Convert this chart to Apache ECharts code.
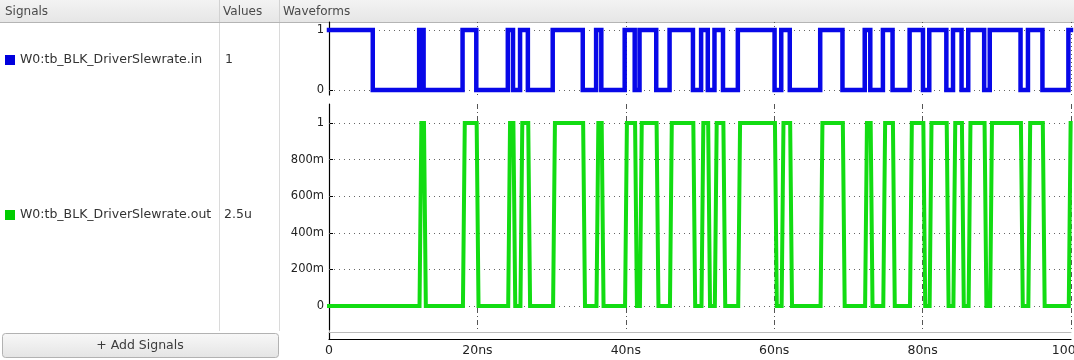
<!DOCTYPE html>
<html><head><meta charset="utf-8">
<script src="https://cdn.jsdelivr.net/npm/echarts@6/dist/echarts.min.js"></script>
<style>html,body{margin:0;padding:0;background:#fff;overflow:hidden}#c{width:1100px;height:360px}</style>
</head><body><div id="c"></div>
<script>
// ---- data ----
const headers = ['Signals', 'Values', 'Waveforms'];
const signalNames = ['W0:tb_BLK_DriverSlewrate.in', 'W0:tb_BLK_DriverSlewrate.out'];
const signalValues = ['1', '2.5u'];
const signalColors = ['#0000dd', '#00cc00'];
const timeTicks = [0, 20, 40, 60, 80, 100];           // ns
const inTicks = [0, 1];
const outTicks = [0, 0.2, 0.4, 0.6, 0.8, 1];
const buttonLabel = '+ Add Signals';

// input: [time ns, level from that time on]
const inWave = [[0,1],[5.9,0],[12.15,1],[12.75,0],[18.0,1],[19.85,0],[24.1,1],[24.8,0],[25.75,1],[26.8,0],
  [30.15,1],[34.2,0],[36.0,1],[36.7,0],[39.85,1],[41.2,0],[41.85,1],[44.1,0],[45.9,1],[49.05,0],
  [50.15,1],[51.05,0],[51.95,1],[53.1,0],[55.1,1],[60.05,0],[60.95,1],[62.1,0],[66.2,1],[69.2,0],
  [72.2,1],[72.95,0],[74.65,1],[75.95,0],[78.25,1],[80.05,0],[80.9,1],[83.2,0],[84.1,1],[85.25,0],
  [86.15,1],[88.3,0],[89.05,1],[93.2,0],[94.2,1],[96.15,0],[99.65,1],[100,1]];

// output: [time ns, volts]
const outWave = [[0,0],
  [12.2,0],[12.45,1],[12.8,1],[13.05,0],
  [18.05,0],[18.3,1],[19.9,1],[20.15,0],
  [24.15,0],[24.4,1],[24.85,1],[25.1,0],
  [25.8,0],[26.05,1],[26.85,1],[27.1,0],
  [30.2,0],[30.45,1],[34.25,1],[34.5,0],
  [36.05,0],[36.3,1],[36.75,1],[37.0,0],
  [39.9,0],[40.15,1],[41.25,1],[41.5,0],
  [41.9,0],[42.15,1],[44.15,1],[44.4,0],
  [45.95,0],[46.2,1],[49.1,1],[49.35,0],
  [50.2,0],[50.45,1],[51.1,1],[51.35,0],
  [52.0,0],[52.25,1],[53.15,1],[53.4,0],
  [55.15,0],[55.4,1],[60.1,1],[60.35,0],
  [61.0,0],[61.25,1],[62.15,1],[62.4,0],
  [66.25,0],[66.5,1],[69.25,1],[69.5,0],
  [72.25,0],[72.5,1],[73.0,1],[73.25,0],
  [74.7,0],[74.95,1],[76.0,1],[76.25,0],
  [78.3,0],[78.55,1],[80.1,1],[80.35,0],
  [80.95,0],[81.2,1],[83.25,1],[83.5,0],
  [84.15,0],[84.4,1],[85.3,1],[85.55,0],
  [86.2,0],[86.45,1],[88.35,1],[88.6,0],
  [89.1,0],[89.35,1],[93.25,1],[93.5,0],
  [94.25,0],[94.5,1],[96.2,1],[96.45,0],
  [99.7,0],[99.95,1],[100,1]];

// ---- chart ----
const FONT = '"DejaVu Sans", "Liberation Sans", sans-serif';
const chart = echarts.init(document.getElementById('c'), null, {renderer: 'canvas'});
const RIGHT = 29;

function plotX(idx, dash) {
  return {gridIndex: idx, type: 'value', min: timeTicks[0], max: timeTicks[timeTicks.length - 1],
    interval: timeTicks[1] - timeTicks[0],
    axisLine: {show: false}, axisTick: {show: false}, axisLabel: {show: false},
    splitLine: {show: true, lineStyle: {color: '#555', width: 1, type: dash}}};
}
function plotY(idx, min, max, ticks, fmt) {
  return {gridIndex: idx, type: 'value', min: min, max: max,
    axisLine: {show: true, onZero: false, lineStyle: {color: '#000', width: 1.2}},
    axisTick: {show: true, inside: true, length: 4, customValues: ticks, lineStyle: {color: '#000'}},
    axisLabel: {show: true, customValues: ticks, margin: 5, color: '#222', fontFamily: FONT, fontSize: 11.5, formatter: fmt},
    splitLine: {show: false}};
}
const gridMark = (ticks) => ({
  silent: true, symbol: 'none', animation: false, z: 1, label: {show: false},
  lineStyle: {color: '#666', width: 1, type: [1, 4]},
  data: ticks.map(v => ({yAxis: v}))
});

const fmtOut = v => v === 0 ? '0' : (v === 1 ? '1' : Math.round(v * 1000) + 'm');

const option = {
  animation: false,
  backgroundColor: '#ffffff',
  grid: [
    {left: 329, top: 22, right: RIGHT, height: 73},
    {left: 329, top: 104, right: RIGHT, height: 226},
    {left: 329, top: 332, right: RIGHT, height: 7}
  ],
  xAxis: [
    plotX(0, [1, 3]),
    plotX(1, [5, 3, 1, 3]),
    {gridIndex: 2, type: 'value', min: 0, max: 100, interval: 20, position: 'bottom',
      axisLine: {show: true, onZero: false, lineStyle: {color: '#000', width: 1.2}},
      axisTick: {show: false}, splitLine: {show: false},
      axisLabel: {show: true, margin: 5, color: '#222', fontFamily: FONT, fontSize: 12.5,
        showMinLabel: true, showMaxLabel: true, alignMinLabel: 'center', alignMaxLabel: 'center',
        hideOverlap: false, formatter: v => v === 0 ? '0' : v + 'ns'}},
    {gridIndex: 2, type: 'value', min: 0, max: 100, position: 'top',
      axisLine: {show: true, onZero: false, lineStyle: {color: '#bbbbbb', width: 1}},
      axisTick: {show: false}, axisLabel: {show: false}, splitLine: {show: false}}
  ],
  yAxis: [
    plotY(0, -0.0833, 1.1333, inTicks, v => String(v)),
    plotY(1, -0.131, 1.104, outTicks, fmtOut),
    {gridIndex: 2, type: 'value', min: 0, max: 1,
      axisLine: {show: true, onZero: false, lineStyle: {color: '#000', width: 1.2}},
      axisTick: {show: false}, axisLabel: {show: false}, splitLine: {show: false}}
  ],
  series: [
    {type: 'line', name: signalNames[0], xAxisIndex: 0, yAxisIndex: 0, data: inWave, step: 'end',
      symbol: 'none', z: 3, lineStyle: {color: '#0808e8', width: 4.5, join: 'miter', cap: 'square'},
      markLine: gridMark(inTicks)},
    {type: 'line', name: signalNames[1], xAxisIndex: 1, yAxisIndex: 1, data: outWave,
      symbol: 'none', z: 3, lineStyle: {color: '#12dc12', width: 4, join: 'miter', cap: 'square'},
      markLine: gridMark(outTicks)}
  ],
  graphic: [
    {type: 'rect', z: 0, shape: {x: 0, y: 0, width: 1100, height: 22},
      style: {fill: new echarts.graphic.LinearGradient(0, 0, 0, 1, [{offset: 0, color: '#f3f3f3'}, {offset: 1, color: '#e6e6e6'}])}},
    {type: 'line', shape: {x1: 0, y1: 22.5, x2: 1100, y2: 22.5}, style: {stroke: '#b4b4b4', lineWidth: 1}},
    {type: 'line', shape: {x1: 219.5, y1: 0, x2: 219.5, y2: 22}, style: {stroke: '#d2d2d2', lineWidth: 1}},
    {type: 'line', shape: {x1: 279.5, y1: 0, x2: 279.5, y2: 22}, style: {stroke: '#d2d2d2', lineWidth: 1}},
    {type: 'line', shape: {x1: 219.5, y1: 23, x2: 219.5, y2: 331}, style: {stroke: '#dadada', lineWidth: 1}},
    {type: 'line', shape: {x1: 279.5, y1: 23, x2: 279.5, y2: 331}, style: {stroke: '#dadada', lineWidth: 1}},
    {type: 'text', style: {text: headers[0], x: 5, y: 12, fill: '#4a4a4a', font: '12px ' + FONT, verticalAlign: 'middle'}},
    {type: 'text', style: {text: headers[1], x: 223, y: 12, fill: '#4a4a4a', font: '12px ' + FONT, verticalAlign: 'middle'}},
    {type: 'text', style: {text: headers[2], x: 283, y: 12, fill: '#4a4a4a', font: '12px ' + FONT, verticalAlign: 'middle'}},
    {type: 'rect', shape: {x: 5, y: 55, width: 10, height: 10}, style: {fill: signalColors[0]}},
    {type: 'text', style: {text: signalNames[0], x: 20, y: 60, fill: '#333', font: '12.5px ' + FONT, verticalAlign: 'middle'}},
    {type: 'text', style: {text: signalValues[0], x: 225, y: 60, fill: '#333', font: '12.5px ' + FONT, verticalAlign: 'middle'}},
    {type: 'rect', shape: {x: 5, y: 210, width: 10, height: 10}, style: {fill: signalColors[1]}},
    {type: 'text', style: {text: signalNames[1], x: 20, y: 215, fill: '#333', font: '12.5px ' + FONT, verticalAlign: 'middle'}},
    {type: 'text', style: {text: signalValues[1], x: 224, y: 215, fill: '#333', font: '12.5px ' + FONT, verticalAlign: 'middle'}},
    {type: 'rect', shape: {x: 2.5, y: 333.5, width: 276, height: 24, r: 3},
      style: {fill: new echarts.graphic.LinearGradient(0, 0, 0, 1, [{offset: 0, color: '#f8f8f8'}, {offset: 1, color: '#e4e4e4'}]),
        stroke: '#b2b2b2', lineWidth: 1}},
    {type: 'text', style: {text: buttonLabel, x: 140, y: 346, fill: '#3c3c3c', font: '12.5px ' + FONT, align: 'center', verticalAlign: 'middle'}}
  ]
};
chart.setOption(option);
</script>
</body></html>
